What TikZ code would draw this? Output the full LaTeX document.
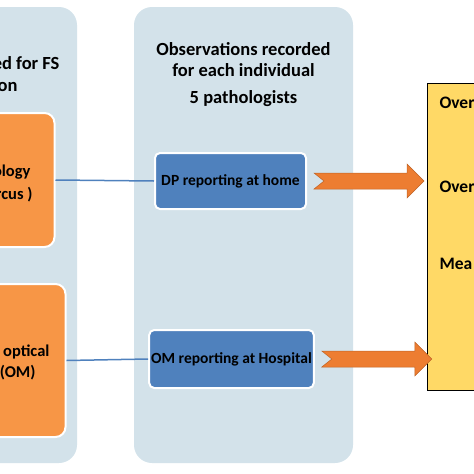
\documentclass[tikz,border=0pt]{standalone}
\usepackage{fontspec}
\setmainfont{Carlito}
\usetikzlibrary{calc}

\definecolor{panelblue}{RGB}{211,226,234}
\definecolor{boxorange}{RGB}{247,150,70}
\definecolor{boxblue}{RGB}{79,129,189}
\definecolor{arroworange}{RGB}{237,125,49}
\definecolor{sumyellow}{RGB}{255,217,102}

\begin{document}
\begin{tikzpicture}[x=1pt, y=-1pt,
    panel/.style={fill=panelblue, rounded corners=18pt},
    sourcebox/.style={fill=boxorange, draw=white, line width=2pt, rounded corners=10pt},
    reportbox/.style={fill=boxblue, draw=white, line width=2pt, rounded corners=5pt,
      minimum width=151pt, minimum height=56pt, inner sep=2pt,
      font=\fontsize{15.5}{18}\selectfont\bfseries},
    link/.style={draw=boxblue, line width=1.5pt},
    fatarrow/.style={fill=arroworange, draw=arroworange!80!black, line width=0.5pt},
    heading/.style={font=\fontsize{18.5}{21}\selectfont\bfseries, align=center},
    label/.style={font=\fontsize{16.5}{20}\selectfont\bfseries}]

  \useasboundingbox (0,0) rectangle (474,474);
  \clip (0,0) rectangle (474,474);

  % === background panels ===
  \fill[panel] (-40,7) rectangle (77,463);
  \fill[panel] (134,7) rectangle (353,463);

  % left panel heading (cut at the left edge)
  \node[heading, anchor=base east] (lefthead1) at (63,69) {ed for FS};
  \node[heading, anchor=base east] (lefthead2) at (21,91) {on};

  % === source boxes ===
  \node[sourcebox, minimum width=115pt, minimum height=134pt] (src1) at (-3,180) {};
  \node[sourcebox, minimum width=125pt, minimum height=153pt] (src2) at (3,360.5) {};
  \node[label, anchor=base east] (src1a) at (34,176) {ology};
  \node[label, anchor=base east] (src1b) at (36,199) {rcus )};
  \node[label, anchor=base east] (src2a) at (53,356) {optical};
  \node[label, anchor=base east] (src2b) at (39,377) {(OM)};

  % === middle panel ===
  \node[heading] (midhead) at (243.5,60) {Observations recorded\\for each individual};
  \node[heading] (pathol) at (243.5,99) {5 pathologists};

  \node[reportbox] (dp) at (230.5,181) {DP reporting at home};
  \node[reportbox, minimum width=157pt, minimum height=58pt] (om) at (231.5,359) {OM reporting at Hospital};

  \draw[link] (src1.east) -- (dp.west);
  \draw[link] (src2.east) -- (om.west);

  % === summary box ===
  \node[fill=sumyellow, draw=black, line width=0.8pt, minimum width=120pt,
    minimum height=307pt] (summary) at (487,236.5) {};
  \node[label, font=\fontsize{17.5}{20}\selectfont\bfseries, anchor=west] (sum1) at (436,103) {Over};
  \node[label, font=\fontsize{17.5}{20}\selectfont\bfseries, anchor=west] (sum2) at (436,187) {Over};
  \node[label, font=\fontsize{17.5}{20}\selectfont\bfseries, anchor=west] (sum3) at (436,264) {Mea};

  % notched block arrows into the summary
  \foreach \src in {dp,om} {
    \draw[fatarrow] ($(\src.east)+(7,-8)$) -- ++(93,0) -- ++(0,-9) -- ++(17,17)
      -- ++(-17,17) -- ++(0,-9) -- ++(-93,0) -- ++(10,-8) -- cycle;
  }

\end{tikzpicture}
\end{document}
